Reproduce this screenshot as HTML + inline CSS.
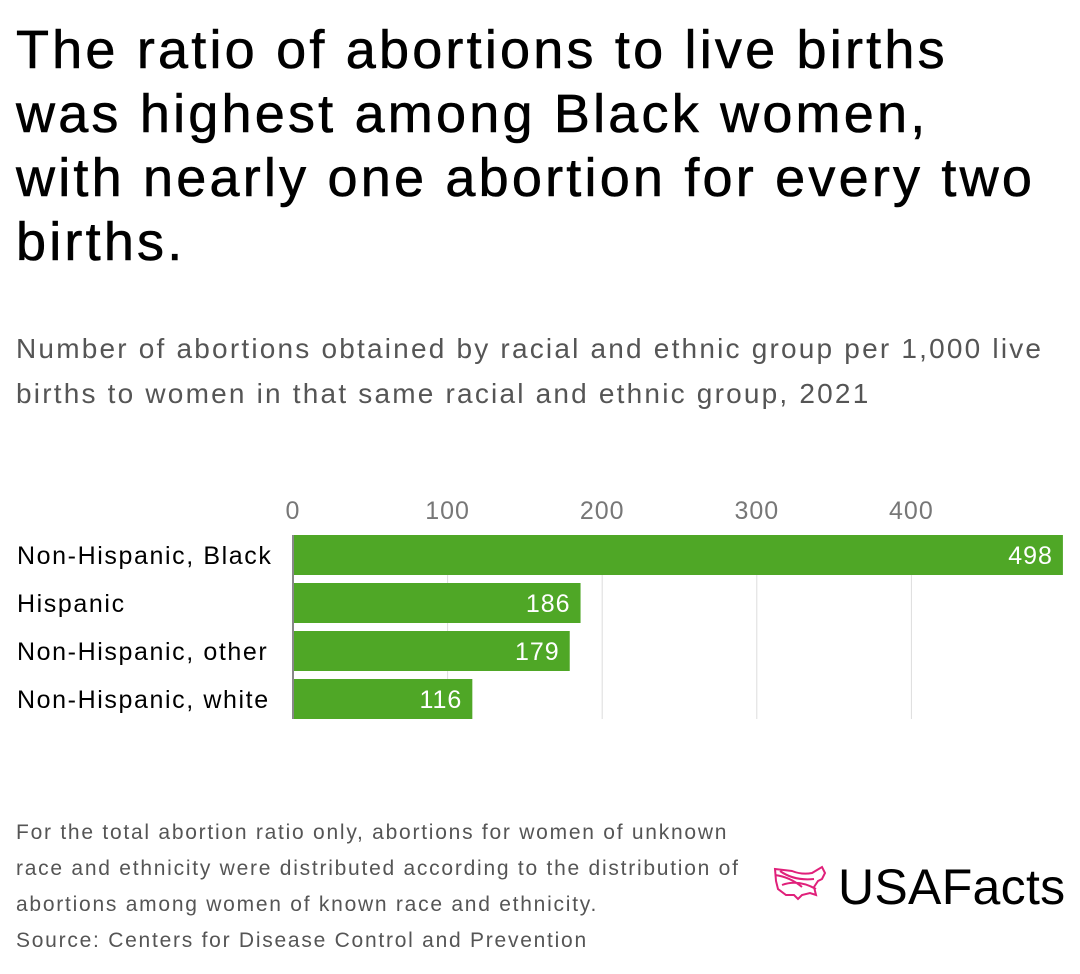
<!DOCTYPE html>
<html><head><meta charset="utf-8"><style>
body{margin:0;width:1080px;height:974px;background:#fff;font-family:"Liberation Sans",sans-serif;position:relative;overflow:hidden}
#title{position:absolute;left:16px;top:18px;width:1070px;white-space:nowrap;font-size:54px;line-height:64px;color:#000;margin:0;font-weight:normal;letter-spacing:3.2px;-webkit-text-stroke:0.6px #000}
#sub{position:absolute;left:16px;top:326px;width:1070px;white-space:nowrap;font-size:28px;line-height:45px;color:#555;letter-spacing:2.2px}
#foot{position:absolute;left:16px;top:815px;width:760px;white-space:nowrap;font-size:21px;line-height:36px;color:#555;letter-spacing:1.75px}
#logo{position:absolute;left:772px;top:858px}
</style></head><body>
<h1 id="title">The ratio of abortions to live births<br>was highest among Black women,<br>with nearly one abortion for every two<br>births.</h1>
<div id="sub">Number of abortions obtained by racial and ethnic group per 1,000 live<br>births to women in that same racial and ethnic group, 2021</div>
<svg id="chart" width="1080" height="974" style="position:absolute;left:0;top:0"></svg>
<div id="foot">For the total abortion ratio only, abortions for women of unknown<br>race and ethnicity were distributed according to the distribution of<br>abortions among women of known race and ethnicity.<br>Source: Centers for Disease Control and Prevention</div>
<div id="logo" style="display:flex;align-items:center">
<svg width="56" height="44" viewBox="0 0 56 44"><path d="M3 4 L20 6 Q30 10 40 8 L50 2 L53 8 L50 14 L46 16 L42 22 L44 30 L38 28 L30 30 L26 34 L22 30 L14 30 L6 24 L4 16 Z M3 10 Q18 12 30 22 M8 6 Q22 16 42 14 M10 20 Q26 14 44 24" fill="none" stroke="#e0207a" stroke-width="2"/></svg>
<span style="font-size:50px;color:#000;margin-left:10px;letter-spacing:0.3px">USAFacts</span></div>
<script>
const categories=["Non-Hispanic, Black","Hispanic","Non-Hispanic, other","Non-Hispanic, white"];
const values=[498,186,179,116];
const ticks=[0,100,200,300,400];
const svg=document.getElementById('chart');
const NS='http://www.w3.org/2000/svg';
const x0=293,scale=1.546,yTop=535,step=48,bh=40;
const x=v=>x0+v*scale;
const y=i=>yTop+i*step;
function mk(t,a){const e=document.createElementNS(NS,t);for(const k in a)e.setAttribute(k,a[k]);svg.appendChild(e);return e;}
ticks.forEach(t=>{
 if(t>0){const g=mk('line',{x1:x(t),x2:x(t),y1:yTop,y2:y(categories.length-1)+bh,stroke:'#ddd','stroke-width':1});
 
 }
 const l=mk('text',{x:x(t),y:519,'text-anchor':'middle','font-size':25,fill:'#777','letter-spacing':1,'font-family':'Liberation Sans, sans-serif'});
 l.textContent=t;
 
 
});
categories.forEach((c,i)=>{
 const r=mk('rect',{x:x0+1,y:y(i),width:x(values[i])-x0-1,height:bh,fill:'#4fa726'});
 
 
 const v=mk('text',{x:x(values[i])-10,y:y(i)+29,'text-anchor':'end','font-size':25,fill:'#fff','letter-spacing':1,'font-family':'Liberation Sans, sans-serif'});
 v.textContent=values[i];
 
 
 const cl=mk('text',{x:17,y:y(i)+29,'font-size':25,fill:'#000','letter-spacing':1.6,'font-family':'Liberation Sans, sans-serif'});
 cl.textContent=c;
 
 
});
const ax=mk('line',{x1:x0,x2:x0,y1:yTop,y2:y(categories.length-1)+bh,stroke:'#888','stroke-width':2});


</script>
</body></html>
